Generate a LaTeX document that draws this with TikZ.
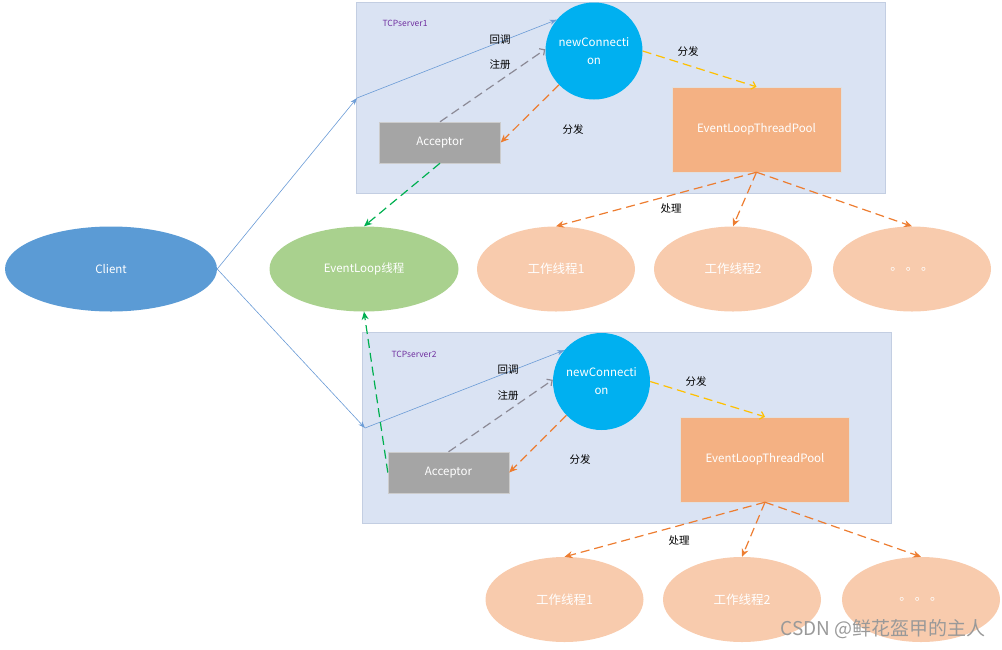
\documentclass[tikz,border=0pt]{standalone}
\usepackage{fontspec}
\setmainfont{Noto Sans CJK SC}
\usetikzlibrary{arrows.meta}
\usetikzlibrary{shapes.geometric}
\definecolor{srvfill}{HTML}{DAE3F3}
\definecolor{srvline}{HTML}{C3CEE2}
\definecolor{clientblue}{HTML}{5B9BD5}
\definecolor{loopgreen}{HTML}{A9D18E}
\definecolor{workpeach}{HTML}{F8CBAD}
\definecolor{poolorange}{HTML}{F4B183}
\definecolor{accgray}{HTML}{A5A5A5}
\definecolor{conncyan}{HTML}{00B0F0}
\definecolor{arrowblue}{HTML}{6A9BD6}
\definecolor{dashorange}{HTML}{ED7D31}
\definecolor{dashyellow}{HTML}{FFC000}
\definecolor{dashgreen}{HTML}{00B050}
\definecolor{dashgray}{HTML}{8C8A96}
\definecolor{titlepurple}{HTML}{7030A0}

\begin{document}
\begin{tikzpicture}[x=1pt, y=-1pt, font=\fontsize{11.5}{13}\selectfont,
  server/.style={draw=srvline, fill=srvfill, minimum width=529pt, minimum height=191pt, inner sep=0pt},
  title/.style={text=titlepurple, font=\fontsize{8.5}{10}\selectfont},
  oval/.style={ellipse, text=white, inner sep=0pt, minimum height=85pt},
  work/.style={oval, fill=workpeach, minimum width=158pt, font=\fontsize{12.5}{14}\selectfont},
  conn/.style={circle, fill=conncyan, text=white, minimum size=97pt, inner sep=0pt, align=center, font=\fontsize{11.5}{18}\selectfont},
  acc/.style={fill=accgray, draw=black!20, text=white, minimum width=121pt, minimum height=41pt, inner sep=0pt},
  pool/.style={fill=poolorange, draw=black!12, text=white, minimum width=169pt, minimum height=85pt, inner sep=0pt},
  lbl/.style={font=\fontsize{10.5}{12}\selectfont},
  callline/.style={arrowblue, line width=0.6pt, -{Stealth[length=7pt, width=5pt]}},
  dashline/.style={line width=1.2pt, dash pattern=on 9pt off 5pt},
  filltip/.style={-{Stealth[length=8pt, width=7pt]}},
  opentip/.style={-{Straight Barb[length=4pt, width=8pt]}}
]
\useasboundingbox (0,0) rectangle (1002,649);

% the two servers
\node[server] (srv1) at (620.5,97.5) {};
\node[server] (srv2) at (627,428) {};
\node[title] (t1) at (405,23) {TCPserver1};
\node[title] (t2) at (414,354) {TCPserver2};

% client and main loop
\node[oval, fill=clientblue, minimum width=212pt] (client) at (111,269) {Client};
\node[oval, fill=loopgreen, minimum width=189pt] (loop) at (364,269) {EventLoop线程};

% inside the servers
\node[conn] (nc1) at (594,51) {newConnecti\\on};
\node[acc] (acc1) at (440,142.5) {Acceptor};
\node[pool] (pool1) at (756.5,129.5) {EventLoopThreadPool};
\node[conn] (nc2) at (601.5,381.5) {newConnecti\\on};
\node[acc] (acc2) at (448.5,472.5) {Acceptor};
\node[pool] (pool2) at (765,459.5) {EventLoopThreadPool};

% worker threads
\foreach \x/\n/\t in {556/1/工作线程1, 733/2/工作线程2, 912/3/{。 。 。}}
  \node[work] (wa\n) at (\x,269) {\t};
\foreach \x/\n/\t in {564.5/1/工作线程1, 742/2/工作线程2, 921/3/{。 。 。}}
  \node[work] (wb\n) at (\x,599.5) {\t};

% client callbacks
\coordinate (in1) at (357,98);
\coordinate (in2) at (365,428);
\draw[callline] (client.east) -- (in1);
\draw[callline] (in1) -- (nc1.140);
\draw[callline] (client.east) -- (in2);
\draw[callline] (in2) -- (nc2.140);

% server 1
\draw[dashline, dashgray, opentip] (acc1.north) -- (nc1.178);
\draw[dashline, dashorange, filltip] (nc1.224) -- (acc1.east);
\draw[dashline, dashyellow, opentip] (nc1.east) -- (pool1.north);
\draw[dashline, dashgreen, filltip] (acc1.south) -- (loop.north);
\foreach \n in {1,2,3}
  \draw[dashline, dashorange, filltip] (pool1.south) -- (wa\n.north);
\node[lbl] (l1) at (500,40) {回调};
\node[lbl] (l2) at (500,65) {注册};
\node[lbl] (l3) at (573,129) {分发};
\node[lbl] (l4) at (688,51) {分发};
\node[lbl] (l5) at (671,209) {处理};

% server 2
\draw[dashline, dashgray, opentip] (acc2.north) -- (nc2.178);
\draw[dashline, dashorange, filltip] (nc2.224) -- (acc2.east);
\draw[dashline, dashyellow, opentip] (nc2.east) -- (pool2.north);
\draw[dashline, dashgreen, filltip] (acc2.west) -- (loop.south);
\foreach \n in {1,2,3}
  \draw[dashline, dashorange, filltip] (pool2.south) -- (wb\n.north);
\node[lbl] (m1) at (508,370) {回调};
\node[lbl] (m2) at (508,396) {注册};
\node[lbl] (m3) at (580,459) {分发};
\node[lbl] (m4) at (696,381) {分发};
\node[lbl] (m5) at (679,541) {处理};

\node[text=black!40, font=\fontsize{19}{22}\selectfont] (mark) at (883,629) {CSDN @鲜花盔甲的主人};
\end{tikzpicture}
\end{document}
